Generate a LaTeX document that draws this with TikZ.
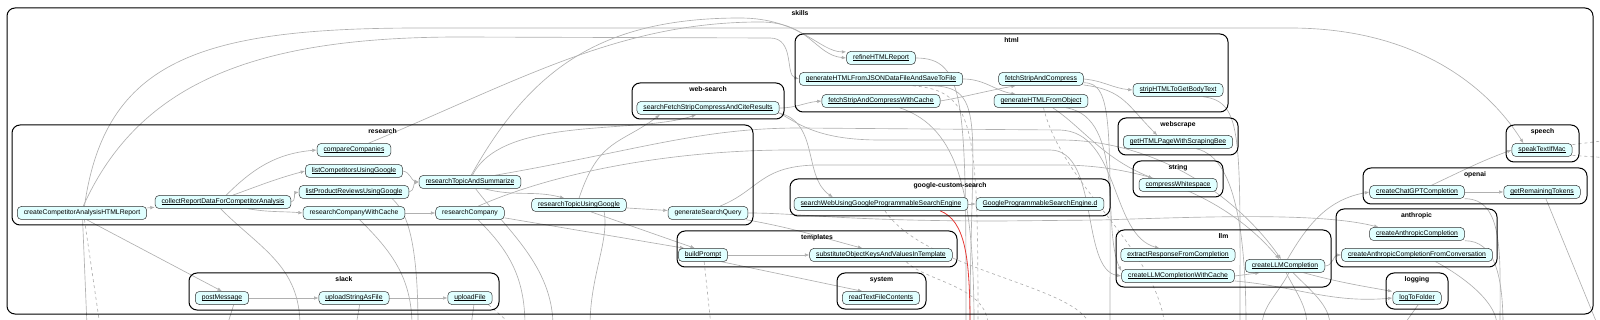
\documentclass[tikz,border=0pt]{standalone}
\usepackage{fontspec}
\setmainfont{Liberation Sans}
\usepackage{xcolor}
\usepackage{tikz}
\usetikzlibrary{positioning,arrows.meta,fit,backgrounds}
\definecolor{cnode}{HTML}{E0FFFF}
\definecolor{cedge}{HTML}{B0B0B0}
\definecolor{chot}{HTML}{E53935}
\newsavebox{\lnkbox}
\newcommand{\lnk}[1]{\sbox\lnkbox{#1}\rlap{\rule[-1.1pt]{\wd\lnkbox}{0.3pt}}\usebox\lnkbox}
\newcommand{\fsz}{\fontsize{6.8}{8}\selectfont}

\begin{document}
\begin{tikzpicture}[
  x=1pt, y=1pt,
  fn/.style={draw=black!80, fill=cnode, rounded corners=4pt, line width=0.5pt,
    minimum height=13pt, inner xsep=6.5pt, inner ysep=0pt,
    text height=5pt, text depth=1.6pt, font=\fsz},
  grp/.style={draw, line width=1pt, rounded corners=8pt, inner sep=0pt},
  grptitle/.style={font=\fsz\bfseries, inner sep=0pt, text height=5pt, text depth=1.6pt},
  dep/.style={draw=cedge, line width=0.65pt, -{Latex[length=4.5pt,width=3.5pt]}},
  far/.style={draw=cedge, line width=0.65pt},
  faint/.style={far, dashed},
  hot/.style={draw=chot, line width=0.8pt},
]
\useasboundingbox (0,0) rectangle (1600,-320);
\foreach \x in {87,100,227,300,356,412,418,471,513,525,553,590,711,966,970,974,978,988,1090,1110,1165,1240,1246,1262,1307,1330,1403,1497,1500,1503,1598}
  \coordinate (out\x) at (\x,-326);
\coordinate (rt142) at (1610,-140);
\coordinate (rt158) at (1610,-158);

% ---------- research ----------
\node[fn] (crHTML) at (82,-213) {createCompetitorAnalysisHTMLReport};
\node[fn] (collect) at (223,-202) {\lnk{collectReportDataForCompetitorAnalysis}};
\node[fn] (compare) at (354,-150) {\lnk{compareCompanies}};
\node[fn] (listComp) at (354,-171) {\lnk{listCompetitorsUsingGoogle}};
\node[fn] (listProd) at (354,-192) {\lnk{listProductReviewsUsingGoogle}};
\node[fn] (rcCache) at (354,-213) {researchCompanyWithCache};
\node[fn] (rtSum) at (470,-182) {\lnk{researchTopicAndSummarize}};
\node[fn] (rCompany) at (470,-213) {researchCompany};
\node[fn] (rtGoogle) at (579,-205) {\lnk{researchTopicUsingGoogle}};
\node[fn] (genQuery) at (708,-213) {generateSearchQuery};
\node[grp, fit={(12,-125)(753,-225)}] (research) {};
\node[grptitle, below=3.5pt of research.north] (researchT) {research};
% ---------- slack ----------
\node[fn] (postMsg) at (222,-298) {\lnk{postMessage}};
\node[fn] (uploadStr) at (354,-298) {\lnk{uploadStringAsFile}};
\node[fn] (uploadFile) at (470,-298) {\lnk{uploadFile}};
\node[grp, fit={(189,-273)(499,-310)}] (slack) {};
\node[grptitle, below=3.5pt of slack.north] (slackT) {slack};
% ---------- web-search ----------
\node[fn] (sfsc) at (708,-108) {\lnk{searchFetchStripCompressAndCiteResults}};
\node[grp, fit={(632,-83)(784,-119)}] (websearch) {};
\node[grptitle, below=3.5pt of websearch.north] (websearchT) {web-search};
% ---------- html ----------
\node[fn] (refine) at (881,-58) {\lnk{refineHTMLReport}};
\node[fn] (genJSON) at (881,-79) {\lnk{generateHTMLFromJSONDataFileAndSaveToFile}};
\node[fn] (fscCache) at (881,-101) {\lnk{fetchStripAndCompressWithCache}};
\node[fn] (fsc) at (1041,-79) {\lnk{fetchStripAndCompress}};
\node[fn] (genObj) at (1041,-101) {\lnk{generateHTMLFromObject}};
\node[fn] (strip) at (1178,-90) {\lnk{stripHTMLToGetBodyText}};
\node[grp, fit={(795,-34)(1228,-112)}] (html) {};
\node[grptitle, below=3.5pt of html.north] (htmlT) {html};
% ---------- webscrape, string ----------
\node[fn] (scrape) at (1178,-142) {\lnk{getHTMLPageWithScrapingBee}};
\node[grp, fit={(1118,-118)(1238,-155)}] (webscrape) {};
\node[grptitle, below=3.5pt of webscrape.north] (webscrapeT) {webscrape};
\node[fn] (compWS) at (1178,-185) {\lnk{compressWhitespace}};
\node[grp, fit={(1133,-161)(1223,-197)}] (string) {};
\node[grptitle, below=3.5pt of string.north] (stringT) {string};
% ---------- google-custom-search ----------
\node[fn] (searchWeb) at (881,-204) {\lnk{searchWebUsingGoogleProgrammableSearchEngine}};
\node[fn] (gpse) at (1040,-204) {\lnk{GoogleProgrammableSearchEngine.d}};
\node[grp, fit={(790,-179)(1110,-216)}] (gcs) {};
\node[grptitle, below=3.5pt of gcs.north] (gcsT) {google-custom-search};
% ---------- templates, system ----------
\node[fn] (buildPrompt) at (703,-255) {\lnk{buildPrompt}};
\node[fn] (subst) at (881,-255) {\lnk{substituteObjectKeysAndValuesInTemplate}};
\node[grp, fit={(677,-231)(957,-267)}] (templates) {};
\node[grptitle, below=3.5pt of templates.north] (templatesT) {templates};
\node[fn] (readText) at (881,-298) {\lnk{readTextFileContents}};
\node[grp, fit={(837,-273)(926,-309)}] (system) {};
\node[grptitle, below=3.5pt of system.north] (systemT) {system};
% ---------- llm ----------
\node[fn] (extract) at (1178,-255) {\lnk{extractResponseFromCompletion}};
\node[fn] (llmCache) at (1178,-276) {\lnk{createLLMCompletionWithCache}};
\node[fn] (llmComp) at (1285,-266) {\lnk{createLLMCompletion}};
\node[grp, fit={(1116,-230)(1331,-287)}] (llm) {};
\node[grptitle, below=3.5pt of llm.north] (llmT) {llm};
% ---------- speech, openai, anthropic, logging ----------
\node[fn] (speak) at (1542,-150) {\lnk{speakTextIfMac}};
\node[grp, fit={(1506,-125)(1579,-162)}] (speech) {};
\node[grptitle, below=3.5pt of speech.north] (speechT) {speech};
\node[fn] (chatGPT) at (1417,-192) {\lnk{createChatGPTCompletion}};
\node[fn] (remaining) at (1542,-192) {\lnk{getRemainingTokens}};
\node[grp, fit={(1363,-168)(1587,-204)}] (openai) {};
\node[grptitle, below=3.5pt of openai.north] (openaiT) {openai};
\node[fn] (anthCompl) at (1417,-234) {\lnk{createAnthropicCompletion}};
\node[fn] (anthConv) at (1417,-255) {\lnk{createAnthropicCompletionFromConversation}};
\node[grp, fit={(1336,-209)(1497,-267)}] (anthropic) {};
\node[grptitle, below=3.5pt of anthropic.north] (anthropicT) {anthropic};
\node[fn] (logFolder) at (1417,-298) {\lnk{logToFolder}};
\node[grp, fit={(1386,-273)(1448,-309)}] (logging) {};
\node[grptitle, below=3.5pt of logging.north] (loggingT) {logging};
% ---------- skills ----------
\node[grp, fit={(7,-8)(1593,-314)}] (skills) {};
\node[grptitle, below=2.5pt of skills.north] (skillsT) {skills};

\begin{scope}[on background layer]
% ---------- research edges ----------
\draw[dep] (crHTML) -- (collect);
\draw[dep] (collect.65) to[out=45,in=185] (compare.west);
\draw[dep] (collect.35) to[out=20,in=195] (listComp.west);
\draw[dep] (collect.east) to[out=10,in=190] (listProd.west);
\draw[dep] (collect.-15) to[out=-10,in=175] (rcCache.west);
\draw[dep] (listComp.east) to[out=-10,in=170] (rtSum.west);
\draw[dep] (listProd.east) to[out=10,in=190] (rtSum.west);
\draw[dep] (rcCache) -- (rCompany);
\draw[dep] (rtSum.-25) to[out=-15,in=165] (rtGoogle.155);
\draw[dep] (rtGoogle) -- (genQuery);
\draw[dep] (rCompany.-8) -- (buildPrompt.160);
\draw[dep] (rtGoogle.-30) -- (buildPrompt.140);
\draw[dep] (crHTML.-55) -- (postMsg.north);
\draw[dep] (postMsg) -- (uploadStr);
\draw[dep] (uploadStr) -- (uploadFile);
\draw[dep] (buildPrompt) -- (subst);
\draw[dep] (buildPrompt.-20) -- (readText.160);
\draw[dep] (genQuery.-10) to[out=-10,in=165] (subst.160);
% ---------- web-search, html ----------
\draw[dep] (rtGoogle.north) .. controls +(20,60) and +(-40,-30) .. (sfsc.-172);
\draw[dep] (rtSum.70) .. controls +(30,60) and +(-60,-20) .. (sfsc.-150);
\draw[dep] (sfsc.east) to[out=0,in=185] (fscCache.west);
\draw[dep] (sfsc.-4) .. controls +(40,-10) and +(-30,20) .. (searchWeb.172);
\draw[dep] (genJSON.east) to[out=0,in=170] (genObj.165);
\draw[dep] (fscCache.east) to[out=10,in=190] (fsc.195);
\draw[dep] (fsc.east) to[out=-5,in=175] (strip.west);
\draw[dep] (fsc.-8) .. controls +(40,-5) and +(-30,30) .. (scrape.162);
\draw[dep] (genObj.-30) .. controls +(30,-20) and +(-50,20) .. (compWS.165);
\draw[dep] (searchWeb) -- (gpse);
% ---------- long top edges ----------
\draw[dep] (crHTML.70) .. controls (105,-60) and (200,-28) .. (420,-28) -- (1290,-28)
  .. controls (1420,-28) and (1490,-90) .. (speak.160);
\draw[dep] (crHTML.80) .. controls (140,-80) and (260,-37) .. (460,-37) -- (770,-38)
  .. controls (795,-38) and (785,-75) .. (genJSON.west);
\draw[dep] (compare.25) .. controls (520,-80) and (620,-22) .. (760,-22)
  .. controls (810,-22) and (815,-55) .. (refine.west);
\draw[dep] (rtSum.80) .. controls (530,-70) and (600,-18) .. (740,-18)
  .. controls (800,-18) and (820,-52) .. (refine.170);
% ---------- middle bundle ----------
\draw[dep] (rtSum.15) .. controls (640,-150) and (700,-128) .. (800,-128) -- (1060,-130)
  .. controls (1120,-132) and (1110,-235) .. (extract.160);
\draw[dep] (rCompany.40) .. controls (560,-170) and (680,-150) .. (790,-150) -- (1050,-150)
  .. controls (1100,-150) and (1080,-270) .. (llmCache.west);
\draw[dep] (genQuery.30) .. controls (760,-190) and (760,-165) .. (820,-165) -- (1060,-165)
  .. controls (1150,-165) and (1230,-200) .. (llmComp.130);
\draw[dep] (sfsc.-4) .. controls (800,-125) and (820,-140) .. (880,-140) -- (1060,-140)
  .. controls (1160,-140) and (1240,-200) .. (llmComp.120);
\draw[dep] (genQuery.east) .. controls (800,-213) and (840,-221) .. (1000,-221) -- (1100,-220)
  .. controls (1200,-217) and (1320,-212) .. (anthCompl.170);
% ---------- llm and providers ----------
\draw[dep] (genObj.-15) .. controls +(60,-10) and +(-20,40) .. (llmCache.175);
\draw[dep] (llmCache.east) -- (llmComp.195);
\draw[dep] (llmComp.70) to[out=60,in=190] (chatGPT.west);
\draw[dep] (llmComp.east) to[out=0,in=180] (anthConv.west);
\draw[dep] (llmComp.-20) to[out=-15,in=170] (logFolder.165);
\draw[dep] (llmCache.-5) to[out=-5,in=185] (logFolder.west);
\draw[dep] (chatGPT) -- (remaining);
\draw[dep] (chatGPT.25) to[out=25,in=200] (speak.west);
% ---------- leaving the view ----------
\draw[far] (refine.east) .. controls +(50,0) and +(0,225) .. (out966);
\draw[far] (genJSON.-8) .. controls +(60,0) and +(0,200) .. (out970);
\draw[faint] (genJSON.-12) .. controls +(62,-5) and +(0,200) .. (out978);
\draw[far] (fscCache.-20) .. controls +(60,-20) and +(0,130) .. (out974);
\draw[hot] ([xshift=59pt]searchWeb.south) .. controls +(25,-10) and +(0,70) .. (out970);
\draw[far] (fsc.-5) .. controls +(30,0) and +(0,200) .. (out1110);
\draw[far] (strip.-15) .. controls +(40,-5) and +(0,190) .. (out1240);
\draw[far] (scrape.-20) .. controls +(20,-5) and +(0,150) .. (out1246);
\draw[faint] (genObj.-70) .. controls +(20,-80) and +(-10,80) .. (out1165);
\draw[faint] (subst.-15) .. controls +(20,-20) and +(0,40) .. (out988);
\draw[faint] (searchWeb.-60) .. controls +(40,-60) and +(-10,40) .. (out1090);
\draw[faint] (buildPrompt.-80) -- (out711);
\draw[faint] (crHTML.-70) -- (out100);
\draw[faint] (uploadFile.-20) -- (out513);
\draw[faint] (speak.10) -- (rt142);
\draw[faint] (speak.-10) -- (rt158);
\draw[far] (crHTML.-85) -- (out87);
\draw[far] (collect.-110) .. controls +(40,-40) and +(0,60) .. (out300);
\draw[far] (postMsg.-30) -- (out227);
\draw[far] (uploadStr.-50) -- (out356);
\draw[far] (uploadFile.-60) -- (out471);
\draw[far] (rcCache.-50) .. controls +(30,-30) and +(0,50) .. (out412);
\draw[far] (listProd.-10) .. controls +(10,-10) and +(0,100) .. (out418);
\draw[far] (rCompany.-40) .. controls +(30,-30) and +(0,50) .. (out525);
\draw[far] (rtSum.-50) .. controls +(30,-40) and +(0,60) .. (out553);
\draw[far] (rtGoogle.-15) .. controls +(5,-30) and +(0,50) .. (out590);
\draw[far] (llmComp.-60) .. controls +(-10,-20) and +(0,20) .. (out1262);
\draw[far] (llmComp.-80) .. controls +(10,-20) and +(0,20) .. (out1307);
\draw[far] (llmComp.-40) .. controls +(20,-20) and +(0,20) .. (out1330);
\draw[far] (logFolder.-80) -- (out1403);
\draw[far] (chatGPT.-8) .. controls +(40,0) and +(0,70) .. (out1500);
\draw[far] (anthCompl.-8) .. controls +(30,0) and +(0,50) .. (out1503);
\draw[far] (anthConv.-20) .. controls +(10,-5) and +(0,30) .. (out1497);
\draw[far] (remaining.-60) -- (out1598);
\end{scope}
\end{tikzpicture}
\end{document}
